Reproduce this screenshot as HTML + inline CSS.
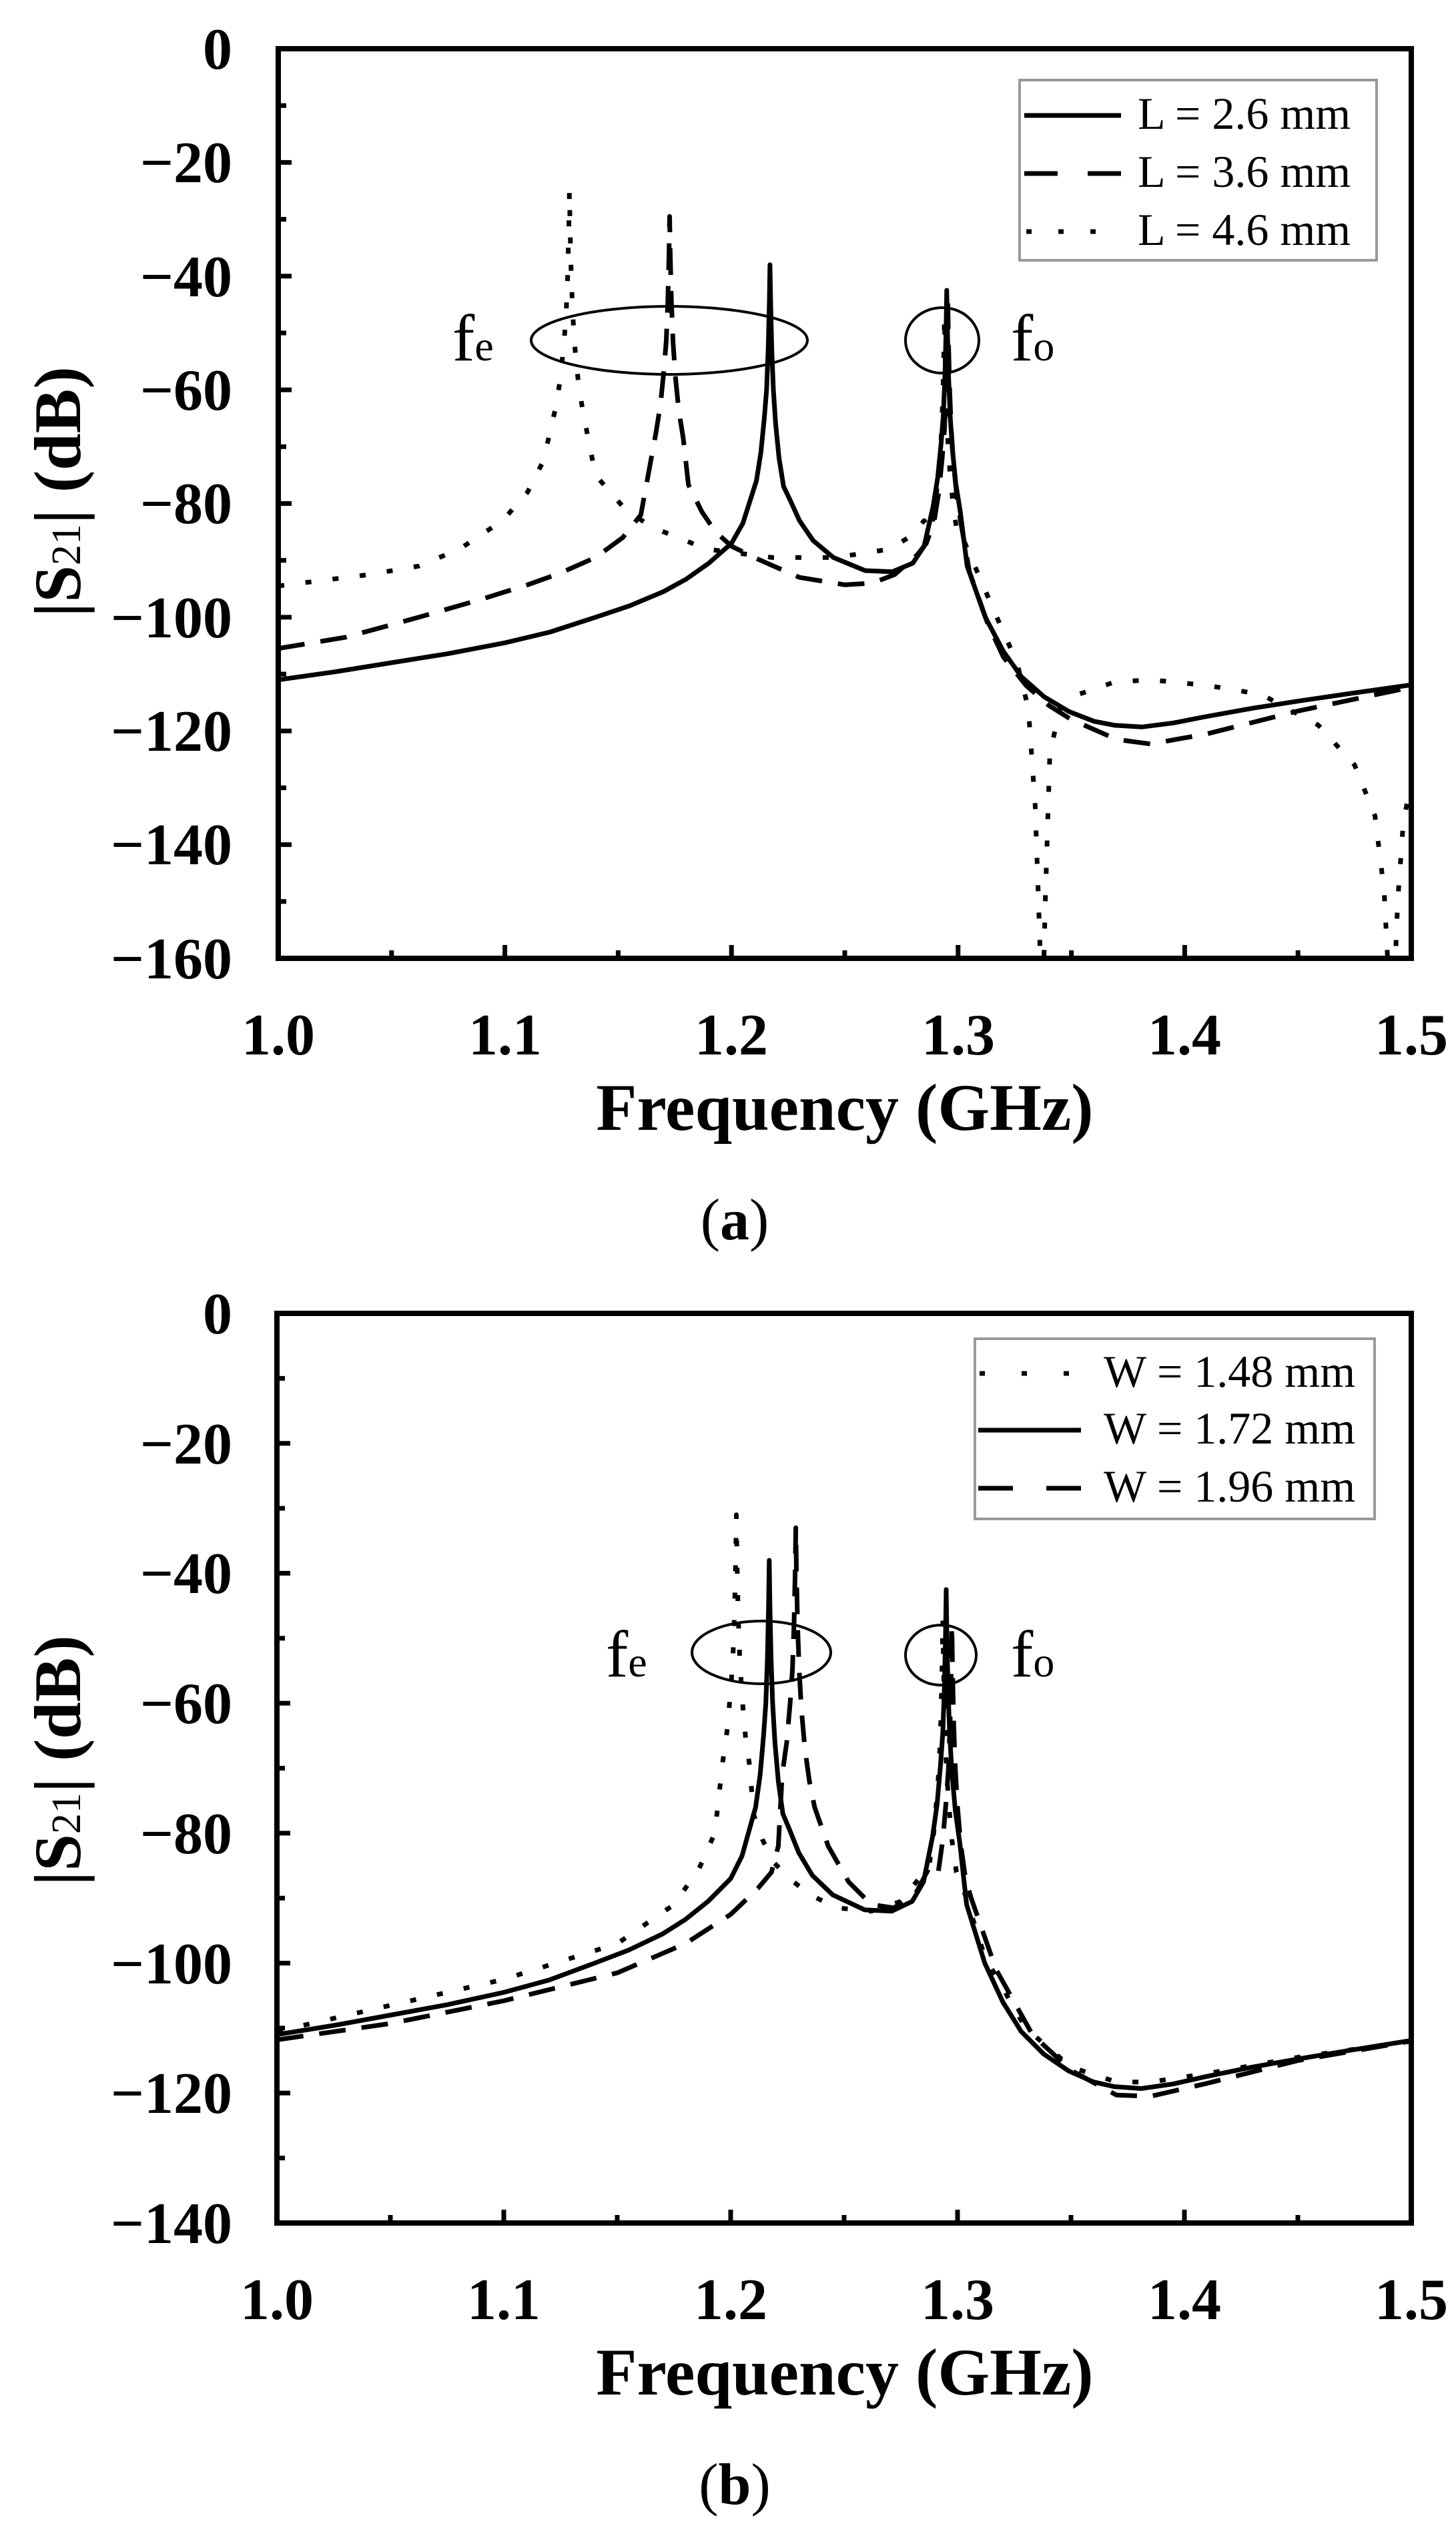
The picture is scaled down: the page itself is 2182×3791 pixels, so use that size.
<!DOCTYPE html>
<html><head><meta charset="utf-8">
<style>
html,body{margin:0;padding:0;background:#fff;}
svg{display:block;}
text{font-family:"Liberation Serif","DejaVu Serif",serif;fill:#000;}
.tk{font-weight:bold;font-size:88px;}
.ti{font-weight:bold;font-size:100px;}
.lg{font-size:68px;}
.cur{fill:none;stroke:#000;stroke-width:7;stroke-linejoin:round;}
</style></head>
<body>
<svg id="s" width="2182" height="3791" viewBox="0 0 2182 3791" xmlns="http://www.w3.org/2000/svg">
<defs>
<clipPath id="ca"><rect x="417" y="73" width="1698" height="1363"/></clipPath>
<clipPath id="cb"><rect x="415" y="1968" width="1700" height="1363"/></clipPath>
</defs>
<g id="ga" clip-path="url(#ca)"></g>
<g id="gb" clip-path="url(#cb)"></g>
<g id="axes"></g>

<!-- Plot a text -->
<g class="tk" text-anchor="end">
<text x="348" y="103">0</text>
<text x="348" y="273">−20</text>
<text x="348" y="444">−40</text>
<text x="348" y="614">−60</text>
<text x="348" y="784">−80</text>
<text x="348" y="955">−100</text>
<text x="348" y="1125">−120</text>
<text x="348" y="1295">−140</text>
<text x="348" y="1466">−160</text>
</g>
<g class="tk" text-anchor="middle">
<text x="417" y="1580">1.0</text>
<text x="757" y="1580">1.1</text>
<text x="1096" y="1580">1.2</text>
<text x="1436" y="1580">1.3</text>
<text x="1775" y="1580">1.4</text>
<text x="2115" y="1580">1.5</text>
</g>
<text class="ti" x="1266" y="1693" text-anchor="middle">Frequency (GHz)</text>
<text class="ti" transform="translate(120,737) rotate(-90)" text-anchor="middle">|S<tspan font-size="62" font-weight="normal">21</tspan>| (dB)</text>
<text x="1101" y="1857" font-size="88" text-anchor="middle">(<tspan font-weight="bold">a</tspan>)</text>

<rect x="1528" y="120" width="535" height="270" fill="#fff" stroke="#999" stroke-width="4"/>
<line x1="1535" y1="173" x2="1680" y2="173" stroke="#000" stroke-width="7"/>
<line x1="1535" y1="260" x2="1680" y2="260" stroke="#000" stroke-width="7" stroke-dasharray="50 45"/>
<line x1="1538" y1="347" x2="1680" y2="347" stroke="#000" stroke-width="7" stroke-dasharray="8 40"/>
<g class="lg"><text x="1705" y="193">L = 2.6 mm</text><text x="1705" y="280">L = 3.6 mm</text><text x="1705" y="367">L = 4.6 mm</text></g>

<ellipse cx="1003" cy="510" rx="207" ry="51" fill="none" stroke="#000" stroke-width="4"/>
<ellipse cx="1412" cy="510" rx="55" ry="49" fill="none" stroke="#000" stroke-width="4"/>
<text x="678" y="540" font-size="100">f<tspan font-size="64">e</tspan></text>
<text x="1515" y="540" font-size="100">f<tspan font-size="64">o</tspan></text>

<!-- Plot b text -->
<g class="tk" text-anchor="end">
<text x="348" y="1998">0</text>
<text x="348" y="2193">−20</text>
<text x="348" y="2387">−40</text>
<text x="348" y="2582">−60</text>
<text x="348" y="2777">−80</text>
<text x="348" y="2972">−100</text>
<text x="348" y="3166">−120</text>
<text x="348" y="3361">−140</text>
</g>
<g class="tk" text-anchor="middle">
<text x="415" y="3475">1.0</text>
<text x="755" y="3475">1.1</text>
<text x="1095" y="3475">1.2</text>
<text x="1435" y="3475">1.3</text>
<text x="1775" y="3475">1.4</text>
<text x="2115" y="3475">1.5</text>
</g>
<text class="ti" x="1266" y="3588" text-anchor="middle">Frequency (GHz)</text>
<text class="ti" transform="translate(120,2638) rotate(-90)" text-anchor="middle">|S<tspan font-size="62" font-weight="normal">21</tspan>| (dB)</text>
<text x="1101" y="3752" font-size="88" text-anchor="middle">(<tspan font-weight="bold">b</tspan>)</text>

<rect x="1461" y="2006" width="599" height="270" fill="#fff" stroke="#999" stroke-width="4"/>
<line x1="1468" y1="2058" x2="1620" y2="2058" stroke="#000" stroke-width="7" stroke-dasharray="8 55"/>
<line x1="1466" y1="2143" x2="1620" y2="2143" stroke="#000" stroke-width="7"/>
<line x1="1466" y1="2230" x2="1620" y2="2230" stroke="#000" stroke-width="7" stroke-dasharray="52 50"/>
<g class="lg"><text x="1654" y="2078">W = 1.48 mm</text><text x="1654" y="2163">W = 1.72 mm</text><text x="1654" y="2250">W = 1.96 mm</text></g>

<ellipse cx="1141" cy="2476" rx="104" ry="47" fill="none" stroke="#000" stroke-width="4"/>
<ellipse cx="1410" cy="2480" rx="53" ry="45" fill="none" stroke="#000" stroke-width="4"/>
<text x="908" y="2512" font-size="100">f<tspan font-size="64">e</tspan></text>
<text x="1515" y="2512" font-size="100">f<tspan font-size="64">o</tspan></text>
</svg>
<script>
(function(){
var NS="http://www.w3.org/2000/svg";
function mk(tag,attrs,parent){var e=document.createElementNS(NS,tag);for(var k in attrs)e.setAttribute(k,attrs[k]);parent.appendChild(e);return e;}
var A={x0:417,x1:2115,y0:73,y1:1436,vmin:-160},B={x0:415,x1:2115,y0:1968,y1:3331,vmin:-140};
function X(P,f){return P.x0+(f-1)/0.5*(P.x1-P.x0);}
function Y(P,v){return P.y0+(-v)/(-P.vmin)*(P.y1-P.y0);}
function path(P,pts,g,dash){
  var d="";for(var i=0;i<pts.length;i++){d+=(i?"L":"M")+X(P,pts[i][0]).toFixed(1)+","+Y(P,pts[i][1]).toFixed(1);}
  var a={d:d,"class":"cur"};if(dash)a["stroke-dasharray"]=dash;mk("path",a,g);
}
function pk(f0,P){
  return [[f0-0.006,P-38],[f0-0.004,P-33],[f0-0.0025,P-27],[f0-0.0015,P-22],[f0-0.0008,P-15],[f0-0.0003,P-7],[f0,P],[f0+0.0003,P-7],[f0+0.0008,P-15],[f0+0.0015,P-22],[f0+0.0025,P-28],[f0+0.004,P-34],[f0+0.006,P-39]];
}
function srt(a){return a.sort(function(p,q){return p[0]-q[0];});}
var ga=document.getElementById("ga"),gb=document.getElementById("gb");
var solid=srt([[1.0,-111],[1.025,-109.6],[1.05,-108],[1.075,-106.4],[1.1,-104.5],[1.12,-102.6],[1.14,-100],[1.155,-98],[1.17,-95.5],[1.18,-93.3],[1.19,-90.5],[1.2,-87],[1.205,-83.5]].concat(pk(1.217,-38)).concat([[1.226,-79.5],[1.23,-83],[1.236,-86.5],[1.245,-89.5],[1.259,-91.8],[1.271,-92],[1.28,-90.5],[1.285,-87.5]]).concat(pk(1.295,-42.5)).concat([[1.304,-91],[1.312,-100],[1.32,-106],[1.328,-110.5],[1.338,-114],[1.349,-116.6],[1.36,-118.3],[1.369,-119],[1.381,-119.3],[1.395,-118.6],[1.409,-117.5],[1.43,-116],[1.451,-114.7],[1.475,-113.3],[1.5,-111.9]]));
var dashA=srt([[1.0,-105.5],[1.03,-103.5],[1.062,-100],[1.09,-96.8],[1.11,-94.3],[1.124,-92.3],[1.14,-89.5],[1.152,-86],[1.16,-82]].concat(pk(1.1727,-29.5)).concat([[1.181,-76.7],[1.187,-81.5],[1.193,-85],[1.2,-87.5],[1.21,-89.5],[1.23,-93],[1.25,-94.3],[1.262,-94],[1.272,-92.5],[1.282,-89],[1.286,-87]]).concat(pk(1.2955,-45)).concat([[1.305,-92],[1.313,-101],[1.32,-107],[1.33,-112],[1.34,-115.5],[1.35,-118],[1.37,-121.5],[1.385,-122.3],[1.41,-120.5],[1.45,-116.5],[1.5,-112.3]]));
var dotA=srt([[1.0,-94.5],[1.04,-92.5],[1.062,-91],[1.08,-88],[1.099,-83],[1.11,-78],[1.117,-72.5]].concat(pk(1.1285,-25)).concat([[1.14,-75],[1.152,-80.5],[1.164,-84],[1.189,-88],[1.218,-89.5],[1.246,-89.5],[1.27,-88],[1.28,-85.5],[1.285,-83]]).concat(pk(1.294,-47)).concat([[1.302,-86],[1.316,-99],[1.326,-108],[1.331,-116],[1.334,-133],[1.336,-156],[1.337,-175],[1.3385,-150],[1.3405,-124],[1.345,-116],[1.353,-113.6],[1.369,-111.4],[1.385,-111],[1.41,-112],[1.434,-113.6],[1.459,-119],[1.475,-126],[1.484,-135],[1.488,-148],[1.4915,-175],[1.494,-150],[1.4965,-136],[1.5,-129]]));
path(A,solid,ga);path(A,dashA,ga,"40 24");path(A,dotA,ga,"9 32");
var dotB=srt([[1.0,-110.5],[1.05,-106.5],[1.1,-102.5],[1.15,-97],[1.175,-91],[1.186,-85.5],[1.193,-80]].concat(pk(1.2025,-31)).concat([[1.21,-77],[1.214,-81],[1.219,-84.5],[1.226,-87],[1.235,-89.5],[1.247,-91.5],[1.262,-92],[1.275,-90.5],[1.283,-87]]).concat(pk(1.2935,-47)).concat([[1.302,-88],[1.312,-99],[1.33,-110],[1.35,-116],[1.37,-118.3],[1.385,-118.3],[1.41,-117],[1.45,-114.5],[1.5,-112]]));
var dashB=srt([[1.0,-111.8],[1.05,-109.3],[1.1,-105.8],[1.15,-101.5],[1.18,-97],[1.2,-92.5],[1.212,-88.5],[1.218,-86],[1.221,-82]].concat(pk(1.2287,-33)).concat([[1.237,-76],[1.243,-82],[1.252,-87.5],[1.262,-91],[1.272,-91.5],[1.282,-89],[1.288,-85]]).concat(pk(1.2975,-48)).concat([[1.306,-90],[1.317,-101],[1.333,-111],[1.35,-116.5],[1.37,-120.3],[1.385,-120.5],[1.41,-118.5],[1.45,-115],[1.5,-112]]));
path(B,solid,gb);path(B,dashB,gb,"40 24");path(B,dotB,gb,"9 32");
var ax=document.getElementById("axes");
[A,B].forEach(function(P){
  mk("rect",{x:P.x0,y:P.y0,width:P.x1-P.x0,height:P.y1-P.y0,fill:"none",stroke:"#000","stroke-width":8},ax);
  for(var i=1;i<20;i++){var f=1+i*0.025;var x=X(P,f);var L=(i%4==0)?20:(i%2==0?12:0);if(L)mk("line",{x1:x,y1:P.y1,x2:x,y2:P.y1-L,stroke:"#000","stroke-width":7},ax);}
  for(var v=-10;v>P.vmin;v-=10){var y=Y(P,v);var L=(v%20==0)?20:12;mk("line",{x1:P.x0,y1:y,x2:P.x0+L,y2:y,stroke:"#000","stroke-width":7},ax);}
});
})();
</script>
</body></html>
